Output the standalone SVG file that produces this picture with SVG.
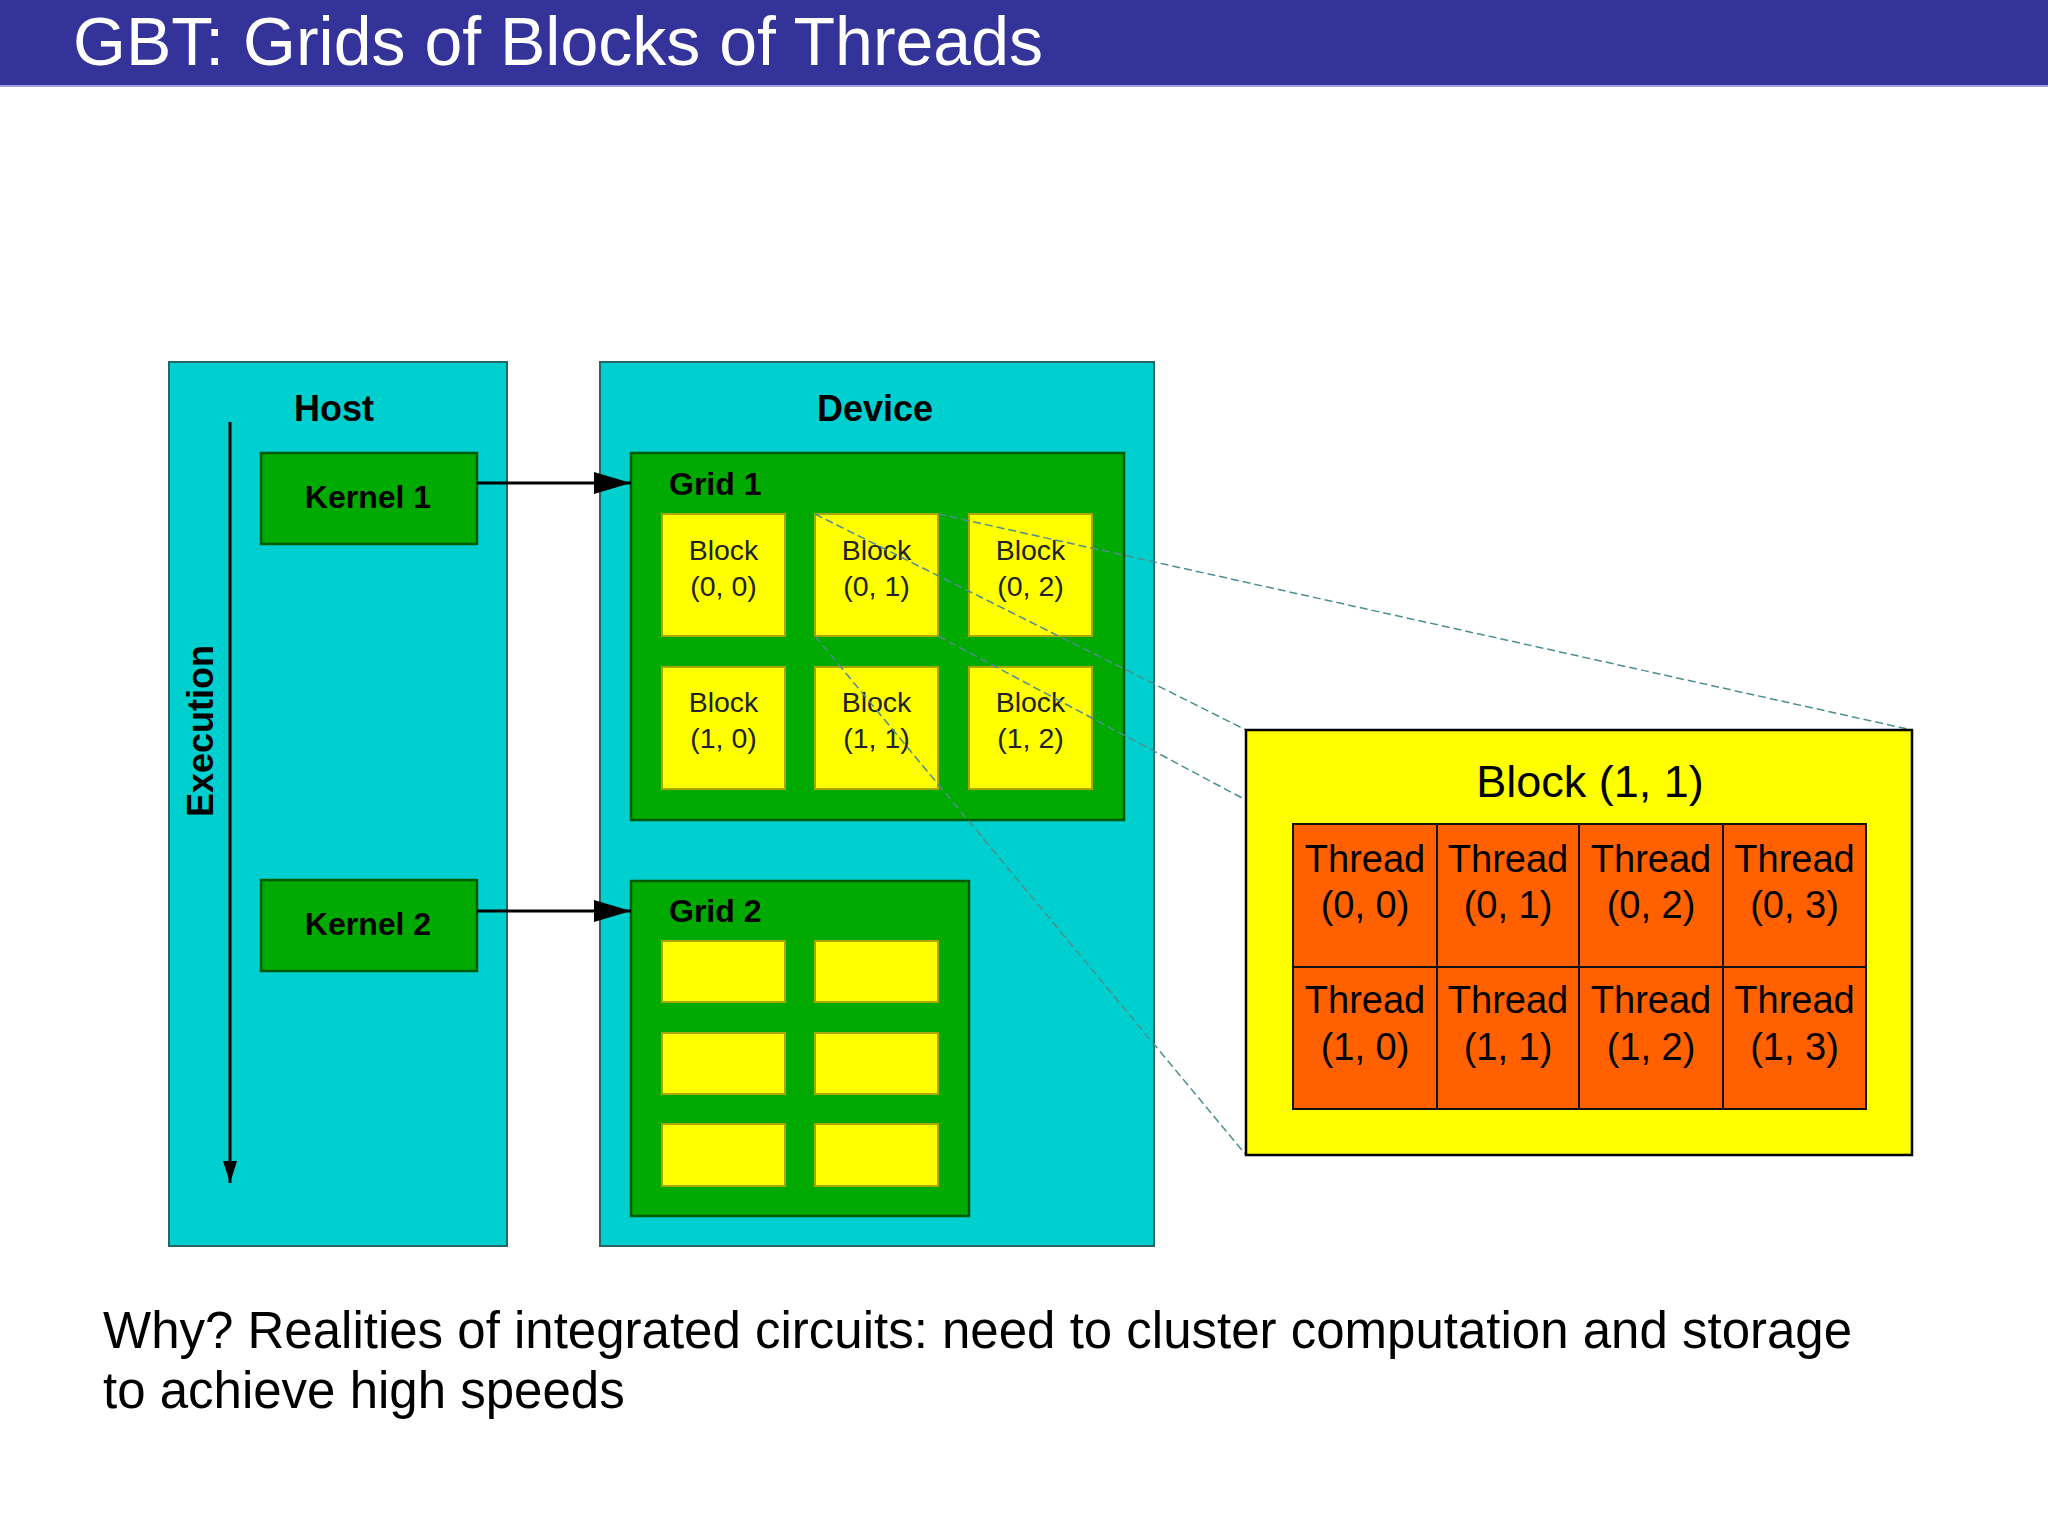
<svg xmlns="http://www.w3.org/2000/svg" width="2048" height="1536" viewBox="0 0 2048 1536">
<defs>
<style>
text{font-family:"Liberation Sans",Arial,Helvetica,sans-serif}
.cyan{fill:#00cfcf;stroke:#2a6666;stroke-width:2}
.grid{fill:#00aa00;stroke:#005a00;stroke-width:2.5}
.blk{fill:#ffff00;stroke:#a8a800;stroke-width:2}
.thr{fill:#ff6000;stroke:#111;stroke-width:2}
.lbl{font-weight:bold;font-size:36px;fill:#000;text-anchor:middle}
.kl{font-weight:bold;font-size:32px;fill:#000;text-anchor:middle}
.gl{font-weight:bold;font-size:32px;fill:#000}
.bl{font-size:28.5px;fill:#222;text-anchor:middle}
.tl{font-size:38px;fill:#000;text-anchor:middle}
.dash{stroke:#4f8e8e;stroke-width:1.5;stroke-dasharray:8 4;fill:none}
.arr{stroke:#000;stroke-width:3;fill:none}
</style>
<marker id="ah" viewBox="0 0 37 22" refX="37" refY="11" markerWidth="37" markerHeight="22" markerUnits="userSpaceOnUse" orient="auto">
<path d="M0,0 L37,11 L0,22 z" fill="#000"/>
</marker>
<marker id="ahs" viewBox="0 0 22 14" refX="22" refY="7" markerWidth="22" markerHeight="14" markerUnits="userSpaceOnUse" orient="auto">
<path d="M0,0 L22,7 L0,14 z" fill="#000"/>
</marker>
</defs>
<rect width="2048" height="1536" fill="#fff"/>
<g id="header">
<rect x="0" y="0" width="2048" height="85" fill="#333399"/>
<rect x="0" y="85" width="2048" height="2" fill="#a0a0d8"/>
<text x="73" y="65" font-size="68" fill="#fff">GBT: Grids of Blocks of Threads</text>
</g>
<g id="host">
<rect class="cyan" x="169" y="362" width="338" height="884"/>
<text class="lbl" x="334" y="421">Host</text>
<text font-size="36" font-weight="bold" fill="#000" text-anchor="middle" transform="translate(213,731) rotate(-90)">Execution</text>
</g>
<g id="kernel1">
<rect class="grid" x="261" y="453" width="216" height="91"/>
<text class="kl" x="368" y="508">Kernel 1</text>
</g>
<g id="kernel2">
<rect class="grid" x="261" y="880" width="216" height="91"/>
<text class="kl" x="368" y="935">Kernel 2</text>
</g>
<g id="device">
<rect class="cyan" x="600" y="362" width="554" height="884"/>
<text class="lbl" x="875" y="421">Device</text>
</g>
<g id="grid1">
<rect class="grid" x="631" y="453" width="493" height="367"/>
<text class="gl" x="669" y="495">Grid 1</text>
<g id="b00"><rect class="blk" x="662" y="514" width="123" height="122"/><text class="bl" x="723.5" y="560">Block</text><text class="bl" x="723.5" y="596">(0, 0)</text></g>
<g id="b01"><rect class="blk" x="815" y="514" width="123" height="122"/><text class="bl" x="876.5" y="560">Block</text><text class="bl" x="876.5" y="596">(0, 1)</text></g>
<g id="b02"><rect class="blk" x="969" y="514" width="123" height="122"/><text class="bl" x="1030.5" y="560">Block</text><text class="bl" x="1030.5" y="596">(0, 2)</text></g>
<g id="b10"><rect class="blk" x="662" y="667" width="123" height="122"/><text class="bl" x="723.5" y="712">Block</text><text class="bl" x="723.5" y="748">(1, 0)</text></g>
<g id="b11"><rect class="blk" x="815" y="667" width="123" height="122"/><text class="bl" x="876.5" y="712">Block</text><text class="bl" x="876.5" y="748">(1, 1)</text></g>
<g id="b12"><rect class="blk" x="969" y="667" width="123" height="122"/><text class="bl" x="1030.5" y="712">Block</text><text class="bl" x="1030.5" y="748">(1, 2)</text></g>
</g>
<g id="grid2">
<rect class="grid" x="631" y="881" width="338" height="335"/>
<text class="gl" x="669" y="922">Grid 2</text>
<rect class="blk" x="662" y="941" width="123" height="61"/>
<rect class="blk" x="815" y="941" width="123" height="61"/>
<rect class="blk" x="662" y="1033" width="123" height="61"/>
<rect class="blk" x="815" y="1033" width="123" height="61"/>
<rect class="blk" x="662" y="1124" width="123" height="62"/>
<rect class="blk" x="815" y="1124" width="123" height="62"/>
</g>
<g id="connectors">
<line class="arr" x1="230" y1="422" x2="230" y2="1183" stroke-width="2.5" marker-end="url(#ahs)"/>
<line class="arr" x1="477" y1="483" x2="631" y2="483" marker-end="url(#ah)"/>
<line class="arr" x1="477" y1="911" x2="631" y2="911" marker-end="url(#ah)"/>
<line class="dash" x1="815" y1="514" x2="1246" y2="730"/>
<line class="dash" x1="938" y1="514" x2="1912" y2="730"/>
<line class="dash" x1="938" y1="636" x2="1912" y2="1155"/>
<line class="dash" x1="815" y1="636" x2="1246" y2="1155"/>
</g>
<g id="block11">
<rect x="1246" y="730" width="666" height="425" fill="#ffff00" stroke="#000" stroke-width="2.5"/>
<text x="1590" y="797" font-size="45" fill="#000" text-anchor="middle">Block (1, 1)</text>
<g id="threads">
<rect class="thr" x="1293" y="824" width="144" height="143"/>
<rect class="thr" x="1437" y="824" width="142" height="143"/>
<rect class="thr" x="1579" y="824" width="144" height="143"/>
<rect class="thr" x="1723" y="824" width="143" height="143"/>
<rect class="thr" x="1293" y="967" width="144" height="142"/>
<rect class="thr" x="1437" y="967" width="142" height="142"/>
<rect class="thr" x="1579" y="967" width="144" height="142"/>
<rect class="thr" x="1723" y="967" width="143" height="142"/>
<text class="tl" x="1365" y="872">Thread</text><text class="tl" x="1365" y="918">(0, 0)</text>
<text class="tl" x="1508" y="872">Thread</text><text class="tl" x="1508" y="918">(0, 1)</text>
<text class="tl" x="1651" y="872">Thread</text><text class="tl" x="1651" y="918">(0, 2)</text>
<text class="tl" x="1794.5" y="872">Thread</text><text class="tl" x="1794.5" y="918">(0, 3)</text>
<text class="tl" x="1365" y="1013">Thread</text><text class="tl" x="1365" y="1060">(1, 0)</text>
<text class="tl" x="1508" y="1013">Thread</text><text class="tl" x="1508" y="1060">(1, 1)</text>
<text class="tl" x="1651" y="1013">Thread</text><text class="tl" x="1651" y="1060">(1, 2)</text>
<text class="tl" x="1794.5" y="1013">Thread</text><text class="tl" x="1794.5" y="1060">(1, 3)</text>
</g>
</g>
<g id="caption">
<text x="103" y="1348" font-size="51" fill="#000">Why? Realities of integrated circuits: need to cluster computation and storage</text>
<text x="103" y="1408" font-size="51" fill="#000">to achieve high speeds</text>
</g>
</svg>
